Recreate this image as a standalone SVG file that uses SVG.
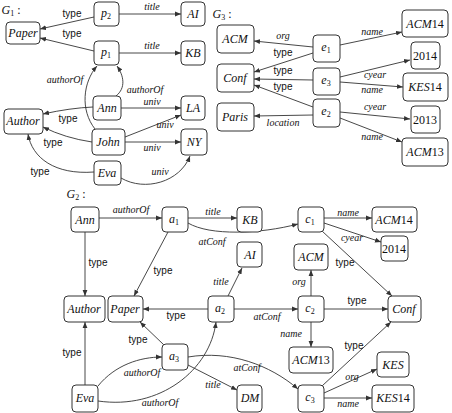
<svg xmlns="http://www.w3.org/2000/svg" width="452" height="413" viewBox="0 0 452 413">
<style>
.n rect{fill:#fff;stroke:#333;stroke-width:1}
.n text,.g{font-family:"Liberation Serif",serif;font-style:italic;font-size:12px;fill:#111;text-anchor:middle}
.n text.u,.u{font-style:normal}
.s{font-style:normal;font-size:8px}
#edges path{fill:none;stroke:#333;stroke-width:0.9;marker-end:url(#ah)}
.l{font-family:"Liberation Serif",serif;font-style:italic;font-size:10px;fill:#111;text-anchor:middle}
.ty{font-family:"Liberation Sans",sans-serif;font-size:10px;fill:#111;text-anchor:middle}
</style>
<defs>
<marker id="ah" viewBox="0 0 10 10" refX="10" refY="5" markerWidth="6" markerHeight="6" markerUnits="userSpaceOnUse" orient="auto"><path d="M0,1 L10,5 L0,9 z" fill="#333"/></marker>
</defs>
<rect width="452" height="413" fill="#fff"/>
<text class="g" x="11" y="14">G<tspan class="s" dy="2">1</tspan><tspan class="u" dy="-2"> :</tspan></text>
<text class="g" x="222" y="18">G<tspan class="s" dy="2">3</tspan><tspan class="u" dy="-2"> :</tspan></text>
<text class="g" x="76" y="198">G<tspan class="s" dy="2">2</tspan><tspan class="u" dy="-2"> :</tspan></text>

<g id="edges">
<!-- G1 -->
<path d="M94,17 L40,29"/>
<path d="M94,51 L40,38"/>
<path d="M119,14 L181,14"/>
<path d="M119,53 L181,53"/>
<path d="M95,129 C80,110 83,82 97,66"/>
<path d="M116,96 C126,88 124,76 117,66"/>
<path d="M93,107 Q70,108 43,114"/>
<path d="M92,142 Q65,138 43,127"/>
<path d="M94,172 C55,175 32,158 28,134"/>
<path d="M121,108 L181,108"/>
<path d="M125,137 L181,115"/>
<path d="M125,142 L181,142"/>
<path d="M121,178 C145,192 180,182 190,156"/>
<!-- G3 -->
<path d="M313,47 L254,41"/>
<path d="M313,53 L254,72"/>
<path d="M313,80 L254,79"/>
<path d="M313,107 L254,85"/>
<path d="M313,115 L254,116"/>
<path d="M340,45 L402,32"/>
<path d="M340,77 L410,60"/>
<path d="M340,82 L403,87"/>
<path d="M340,112 L410,119"/>
<path d="M340,118 L402,142"/>
<!-- G2 -->
<path d="M99,218 L162,218"/>
<path d="M85,232 L85,296"/>
<path d="M168,232 L134,296"/>
<path d="M188,218 L237,218"/>
<path d="M188,223 C210,236 260,234 298,224"/>
<path d="M208,309 L143,309"/>
<path d="M228,296 L242,268"/>
<path d="M234,309 L298,309"/>
<path d="M164,345 L140,322"/>
<path d="M85,385 L85,322"/>
<path d="M98,386 C115,365 140,357 162,357"/>
<path d="M98,401 C160,410 210,370 216,322"/>
<path d="M188,365 L237,390"/>
<path d="M188,357 C230,350 270,365 298,389"/>
<path d="M324,218 L372,218"/>
<path d="M324,223 L381,242"/>
<path d="M322,231 L392,296"/>
<path d="M311,296 L311,270"/>
<path d="M324,309 L388,309"/>
<path d="M311,322 L311,347"/>
<path d="M322,386 L391,322"/>
<path d="M324,393 L377,369"/>
<path d="M324,398 L372,398"/>
</g>

<g id="labels">
<text class="ty" x="72" y="17">type</text>
<text class="ty" x="72" y="37">type</text>
<text class="l" x="152" y="10">title</text>
<text class="l" x="152" y="49">title</text>
<text class="l" x="65" y="83">authorOf</text>
<text class="l" x="145" y="93">authorOf</text>
<text class="l" x="152" y="105">univ</text>
<text class="l" x="165" y="128">univ</text>
<text class="l" x="152" y="151">univ</text>
<text class="l" x="160" y="175">univ</text>
<text class="ty" x="68" y="122">type</text>
<text class="ty" x="53" y="146">type</text>
<text class="ty" x="40" y="175">type</text>

<text class="l" x="283" y="39">org</text>
<text class="ty" x="283" y="56">type</text>
<text class="ty" x="283" y="74">type</text>
<text class="ty" x="283" y="90">type</text>
<text class="l" x="283" y="126">location</text>
<text class="l" x="372" y="35">name</text>
<text class="l" x="375" y="78">cyear</text>
<text class="l" x="372" y="93">name</text>
<text class="l" x="375" y="110">cyear</text>
<text class="l" x="372" y="140">name</text>

<text class="l" x="131" y="213">authorOf</text>
<text class="ty" x="98" y="266">type</text>
<text class="ty" x="163" y="274">type</text>
<text class="l" x="213" y="215">title</text>
<text class="l" x="212" y="245">atConf</text>
<text class="l" x="221" y="285">title</text>
<text class="ty" x="176" y="319">type</text>
<text class="ty" x="138" y="343">type</text>
<text class="ty" x="72" y="356">type</text>
<text class="l" x="142" y="376">authorOf</text>
<text class="l" x="213" y="388">title</text>
<text class="l" x="160" y="406">authorOf</text>
<text class="l" x="348" y="216">name</text>
<text class="l" x="352" y="241">cyear</text>
<text class="ty" x="345" y="266">type</text>
<text class="l" x="299" y="285">org</text>
<text class="ty" x="357" y="304">type</text>
<text class="l" x="267" y="320">atConf</text>
<text class="l" x="291" y="337">name</text>
<text class="ty" x="354" y="349">type</text>
<text class="l" x="247" y="371">atConf</text>
<text class="l" x="352" y="380">org</text>
<text class="l" x="348" y="407">name</text>
</g>

<!-- G1 nodes -->
<g id="g1-p2" class="n"><rect x="94" y="2" width="25" height="24" rx="4"/><text x="106" y="17">p<tspan class="s" dy="2">2</tspan></text></g>
<g id="g1-AI" class="n"><rect x="181" y="2" width="24" height="24" rx="4"/><text x="193" y="18">AI</text></g>
<g id="g1-Paper" class="n"><rect x="6" y="22" width="34" height="22" rx="4"/><text x="23" y="37">Paper</text></g>
<g id="g1-p1" class="n"><rect x="94" y="41" width="25" height="24" rx="4"/><text x="106" y="56">p<tspan class="s" dy="2">1</tspan></text></g>
<g id="g1-KB" class="n"><rect x="181" y="41" width="24" height="24" rx="4"/><text x="193" y="57">KB</text></g>
<g id="g1-Ann" class="n"><rect x="93" y="96" width="28" height="24" rx="4"/><text x="107" y="112">Ann</text></g>
<g id="g1-LA" class="n"><rect x="181" y="96" width="24" height="24" rx="4"/><text x="193" y="112">LA</text></g>
<g id="g1-Author" class="n"><rect x="4" y="109" width="39" height="25" rx="4"/><text x="23" y="125">Author</text></g>
<g id="g1-John" class="n"><rect x="92" y="129" width="33" height="26" rx="4"/><text x="108" y="146">John</text></g>
<g id="g1-NY" class="n"><rect x="181" y="129" width="26" height="26" rx="4"/><text x="194" y="146">NY</text></g>
<g id="g1-Eva" class="n"><rect x="94" y="161" width="27" height="24" rx="4"/><text x="107" y="177">Eva</text></g>

<!-- G3 nodes -->
<g id="g3-ACM" class="n"><rect x="217" y="25" width="37" height="28" rx="4"/><text x="235" y="43">ACM</text></g>
<g id="g3-Conf" class="n"><rect x="217" y="64" width="37" height="28" rx="4"/><text x="235" y="82">Conf</text></g>
<g id="g3-Paris" class="n"><rect x="217" y="103" width="37" height="28" rx="4"/><text x="235" y="121">Paris</text></g>
<g id="g3-e1" class="n"><rect x="313" y="35" width="27" height="27" rx="4"/><text x="326" y="51">e<tspan class="s" dy="2">1</tspan></text></g>
<g id="g3-e3" class="n"><rect x="313" y="68" width="27" height="27" rx="4"/><text x="326" y="84">e<tspan class="s" dy="2">3</tspan></text></g>
<g id="g3-e2" class="n"><rect x="313" y="99" width="27" height="28" rx="4"/><text x="326" y="115">e<tspan class="s" dy="2">2</tspan></text></g>
<g id="g3-ACM14" class="n"><rect x="402" y="10" width="46" height="27" rx="4"/><text x="425" y="28">ACM<tspan class="u">14</tspan></text></g>
<g id="g3-2014" class="n"><rect x="411" y="42" width="29" height="27" rx="4"/><text x="425" y="60" class="u">2014</text></g>
<g id="g3-KES14" class="n"><rect x="403" y="73" width="45" height="28" rx="4"/><text x="425" y="91">KES<tspan class="u">14</tspan></text></g>
<g id="g3-2013" class="n"><rect x="411" y="106" width="29" height="27" rx="4"/><text x="425" y="124" class="u">2013</text></g>
<g id="g3-ACM13" class="n"><rect x="402" y="138" width="46" height="28" rx="4"/><text x="425" y="156">ACM<tspan class="u">13</tspan></text></g>

<!-- G2 nodes -->
<g id="g2-Ann" class="n"><rect x="71" y="207" width="28" height="25" rx="4"/><text x="85" y="224">Ann</text></g>
<g id="g2-a1" class="n"><rect x="162" y="207" width="26" height="25" rx="4"/><text x="174" y="223">a<tspan class="s" dy="2">1</tspan></text></g>
<g id="g2-KB" class="n"><rect x="237" y="207" width="25" height="25" rx="4"/><text x="250" y="224">KB</text></g>
<g id="g2-c1" class="n"><rect x="298" y="207" width="26" height="25" rx="4"/><text x="310" y="223">c<tspan class="s" dy="2">1</tspan></text></g>
<g id="g2-ACM14" class="n"><rect x="372" y="207" width="45" height="25" rx="4"/><text x="394" y="224">ACM<tspan class="u">14</tspan></text></g>
<g id="g2-2014" class="n"><rect x="381" y="236" width="27" height="25" rx="4"/><text x="394" y="253" class="u">2014</text></g>
<g id="g2-AI" class="n"><rect x="237" y="242" width="25" height="25" rx="4"/><text x="250" y="259">AI</text></g>
<g id="g2-ACM" class="n"><rect x="294" y="244" width="34" height="26" rx="4"/><text x="311" y="261">ACM</text></g>
<g id="g2-Author" class="n"><rect x="64" y="296" width="41" height="26" rx="4"/><text x="84" y="313">Author</text></g>
<g id="g2-Paper" class="n"><rect x="108" y="296" width="35" height="26" rx="4"/><text x="125" y="313">Paper</text></g>
<g id="g2-a2" class="n"><rect x="208" y="296" width="26" height="26" rx="4"/><text x="220" y="312">a<tspan class="s" dy="2">2</tspan></text></g>
<g id="g2-c2" class="n"><rect x="298" y="296" width="26" height="26" rx="4"/><text x="310" y="312">c<tspan class="s" dy="2">2</tspan></text></g>
<g id="g2-Conf" class="n"><rect x="388" y="296" width="33" height="26" rx="4"/><text x="404" y="313">Conf</text></g>
<g id="g2-a3" class="n"><rect x="162" y="344" width="26" height="26" rx="4"/><text x="174" y="360">a<tspan class="s" dy="2">3</tspan></text></g>
<g id="g2-ACM13" class="n"><rect x="289" y="347" width="44" height="26" rx="4"/><text x="311" y="364">ACM<tspan class="u">13</tspan></text></g>
<g id="g2-KES" class="n"><rect x="377" y="352" width="32" height="25" rx="4"/><text x="393" y="369">KES</text></g>
<g id="g2-Eva" class="n"><rect x="72" y="385" width="26" height="27" rx="4"/><text x="85" y="402">Eva</text></g>
<g id="g2-DM" class="n"><rect x="237" y="385" width="25" height="27" rx="4"/><text x="250" y="402">DM</text></g>
<g id="g2-c3" class="n"><rect x="298" y="385" width="26" height="27" rx="4"/><text x="310" y="401">c<tspan class="s" dy="2">3</tspan></text></g>
<g id="g2-KES14" class="n"><rect x="372" y="385" width="42" height="27" rx="4"/><text x="393" y="402">KES<tspan class="u">14</tspan></text></g>
</svg>
